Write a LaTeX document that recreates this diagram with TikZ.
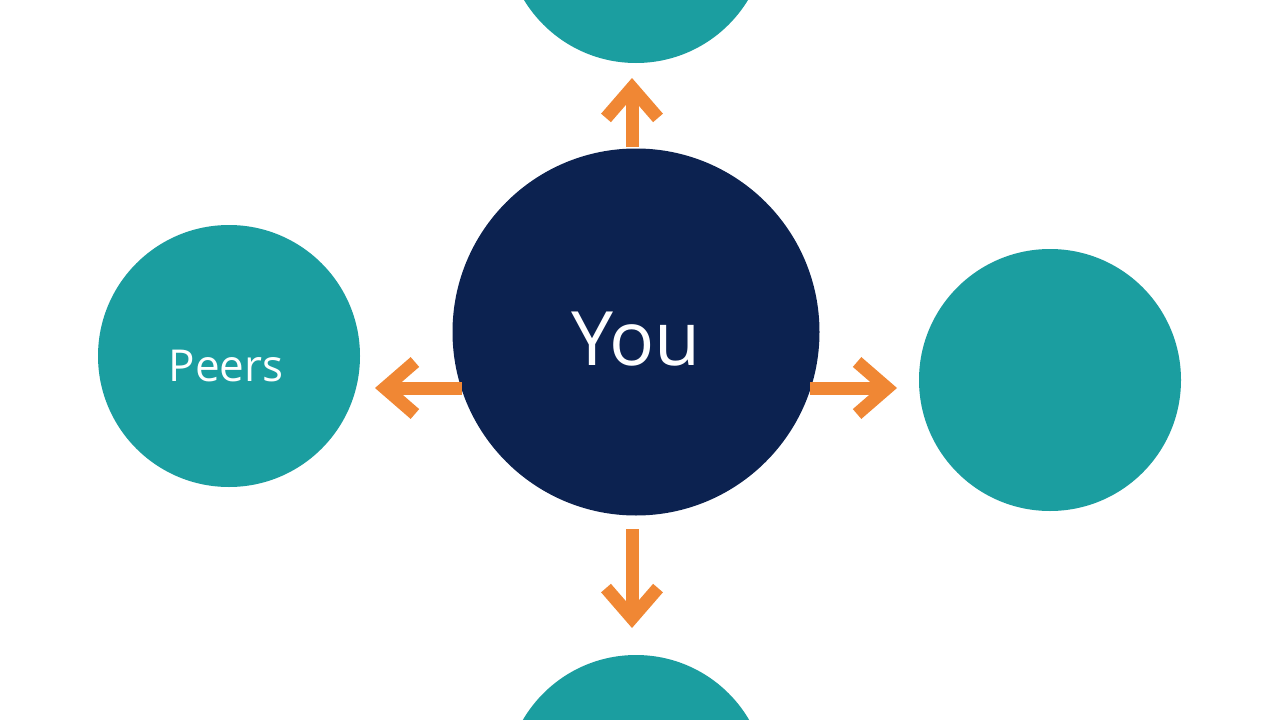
\documentclass[tikz,border=0pt]{standalone}
\usepackage{fontspec}
\setmainfont{Open Sans}
\usetikzlibrary{arrows.meta}
\definecolor{tealc}{RGB}{27,158,160}
\definecolor{navyc}{RGB}{12,34,80}
\definecolor{orangec}{RGB}{240,135,52}
\tikzset{
  bubble/.style={circle, fill=tealc, draw=none, minimum size=262pt, inner sep=0pt},
  hub/.style={circle, fill=navyc, draw=none, minimum size=367pt, inner sep=0pt},
  link/.style={draw=orangec, line width=13pt, line join=miter,
    -{Straight Barb[length=30pt, width=52pt, line width=13pt, line join=miter]}},
  label/.style={text=white, anchor=base, inner sep=0pt}
}
\begin{document}
\begin{tikzpicture}[x=1pt,y=-1pt]
\useasboundingbox (0,0) rectangle (1280,720);
\clip (0,0) rectangle (1280,720);
\fill[white] (0,0) rectangle (1280,720);
\node[hub] (you) at (636,332) {};
\node[bubble] (peers) at (229,356) {};
\node[bubble] (right) at (1050,380) {};
\node[bubble] (top) at (636,-68) {};
\node[bubble] (bottom) at (636,786) {};
\node[label, font=\fontsize{75}{80}\selectfont] (youtxt) at (636,365) {You};
\node[label, font=\fontsize{44}{50}\selectfont] (peerstxt) at (226,381) {Peers};
\coordinate (ts) at (632,147);
\coordinate (te) at (632,78);
\coordinate (ls) at (462,388);
\coordinate (le) at (375,388);
\coordinate (rs) at (810,388);
\coordinate (re) at (897,388);
\coordinate (bs) at (632,529);
\coordinate (be) at (632,628);
\draw[link] (ts) -- (te);
\draw[link] (ls) -- (le);
\draw[link] (rs) -- (re);
\draw[link] (bs) -- (be);
\end{tikzpicture}
\end{document}
